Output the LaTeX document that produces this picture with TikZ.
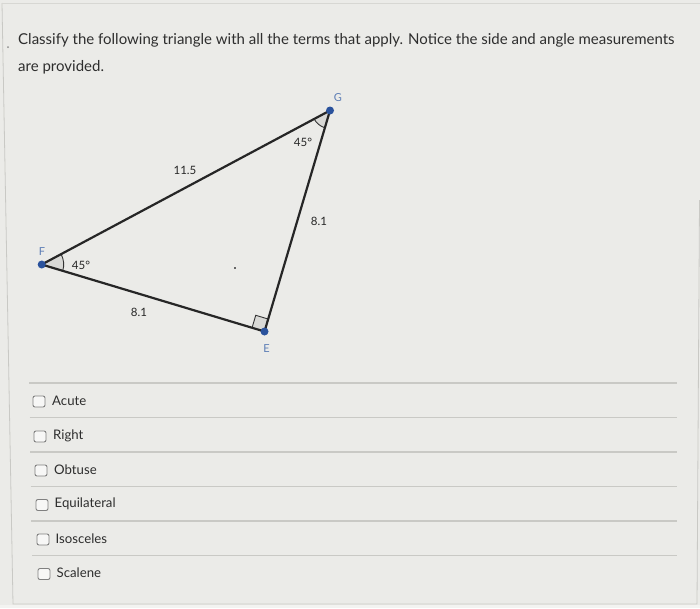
\documentclass[tikz,border=0pt]{standalone}
\usepackage{fontspec}
\setmainfont{Lato}
\usetikzlibrary{angles}
\definecolor{bg}{HTML}{EBEBE8}
\definecolor{rule}{HTML}{C9C9C5}
\definecolor{txt}{HTML}{2E2E2E}
\definecolor{ptblue}{HTML}{2A529C}
\definecolor{lblblue}{HTML}{5C7DB5}
\definecolor{wedge}{HTML}{D9D9D6}
\tikzset{
  qtext/.style={font=\fontsize{15}{18}\selectfont, text=txt, anchor=west, inner sep=0pt},
  opttext/.style={font=\fontsize{13.2}{16}\selectfont, text=txt, anchor=west, inner sep=0pt},
  cbox/.style={draw=black!50, line width=0.9pt, fill=white!60!bg, rounded corners=2pt, minimum width=12pt, minimum height=11pt, inner sep=0pt},
  sep/.style={draw=rule, line width=1.2pt},
  side/.style={draw=black!85, line width=2.2pt, line cap=round},
  pt/.style={circle, fill=ptblue, inner sep=0pt, minimum size=8pt},
  ptlbl/.style={font=\fontsize{11}{13}\selectfont, text=lblblue, inner sep=0pt},
  meas/.style={font=\fontsize{11.5}{13}\selectfont, text=black!85, inner sep=0pt},
  angmark/.style={draw=black!80, line width=0.9pt, fill=wedge},
}
\begin{document}
\begin{tikzpicture}[x=1pt, y=-1pt]
\useasboundingbox (0,0) rectangle (700,608);
\fill[bg] (0,0) rectangle (700,608);
% panel borders
\fill[white!40!bg] (0,605) rectangle (700,608);
\draw[rule, line width=0.8pt] (2,3) -- (13,604) -- (697,604) -- (699.5,200);
\draw[rule!60!bg, line width=0.6pt] (2,3) -- (700,3);
% question
\fill[black!45] (8,47) circle (1pt);
\node[qtext] (q1) at (18,40) {Classify the following triangle with all the terms that apply. Notice the side and angle measurements};
\node[qtext] (q2) at (18,67) {are provided.};
% triangle
\coordinate (F) at (41.7,264.5);
\coordinate (G) at (330,110.5);
\coordinate (E) at (264.5,331.5);
\pic[angmark, angle radius=22pt] {angle = E--F--G};
\pic[angmark, angle radius=18pt] {angle = F--G--E};
\pic[angmark, angle radius=13pt] {right angle = G--E--F};
\draw[side] (F) -- (G);
\draw[side] (G) -- (E);
\draw[side] (E) -- (F);
\node[pt] (Fd) at (F) {};
\node[pt] (Gd) at (G) {};
\node[pt] (Ed) at (E) {};
\node[ptlbl] (Fl) at (42,251.5) {F};
\node[ptlbl] (Gl) at (338,97.5) {G};
\node[ptlbl] (El) at (266.5,349) {E};
\node[meas] (aF) at (81,265.5) {45°};
\node[meas] (aG) at (303,142) {45°};
\node[meas] (s1) at (185,170) {11.5};
\node[meas] (s2) at (319,221) {8.1};
\node[meas] (s3) at (139,312) {8.1};
\fill[black!60] (233.5,266.5) rectangle (236,268.5);
% option separators
\foreach \y/\xs in {383/29, 417.5/29.5, 452/30, 486.5/30.5, 521/31, 555.5/32}{
  \draw[sep] (\xs,\y) -- (677,\y);
}
% options
\node[cbox] (b1) at (39,401.5) {};
\node[opttext] (o1) at (52,401) {Acute};
\node[cbox] (b2) at (40,436.5) {};
\node[opttext] (o2) at (53,435.5) {Right};
\node[cbox] (b3) at (41,470.5) {};
\node[opttext] (o3) at (54,469.5) {Obtuse};
\node[cbox] (b4) at (42,505) {};
\node[opttext] (o4) at (54.5,504) {Equilateral};
\node[cbox] (b5) at (43,539.5) {};
\node[opttext] (o5) at (55.5,538.5) {Isosceles};
\node[cbox] (b6) at (44,574) {};
\node[opttext] (o6) at (56.5,573) {Scalene};
\end{tikzpicture}
\end{document}
